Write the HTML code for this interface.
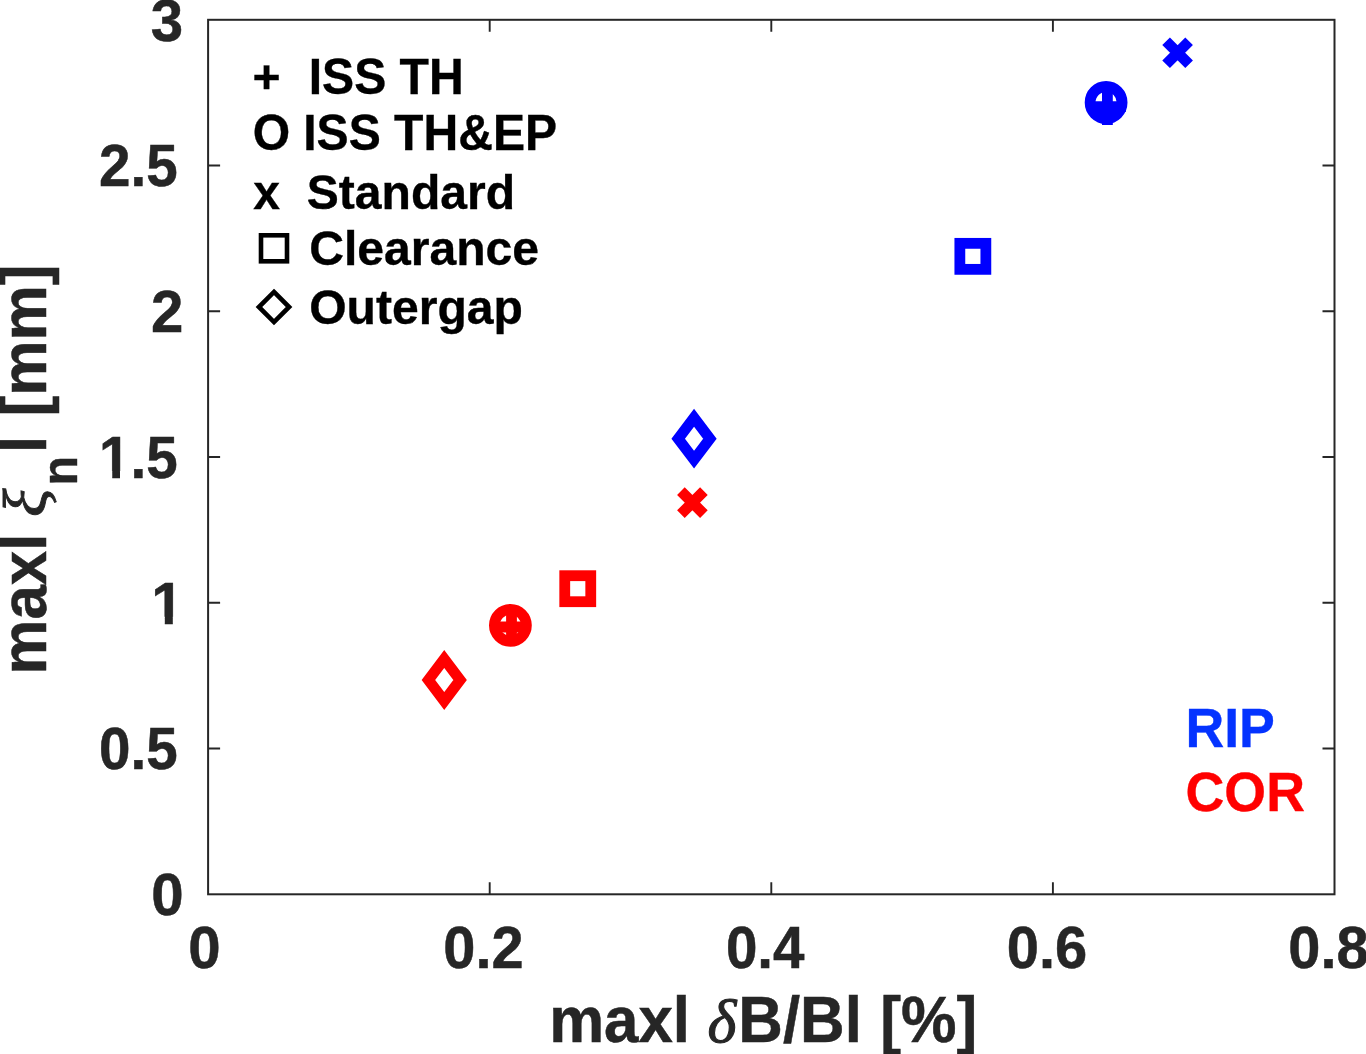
<!DOCTYPE html>
<html lang="en">
<head>
<meta charset="utf-8">
<title>max|xi_n| versus max|dB/B|</title>
<style>
  html, body { margin: 0; padding: 0; background: #ffffff; }
  body { width: 1366px; height: 1054px; overflow: hidden; }
  svg { display: block; }
  .sans { font-family: "Liberation Sans", Arial, Helvetica, sans-serif; font-weight: bold; }
  .tick { font-size: 58.2px; fill: #262626; stroke: #262626; stroke-width: 0.5px; }
  .axl  { font-size: 64px; fill: #262626; stroke: #262626; stroke-width: 0.5px; }
  .sub  { font-size: 50px; fill: #262626; stroke: #262626; stroke-width: 0.4px; }
  .leg  { font-size: 48.1px; fill: #000000; stroke: #000000; stroke-width: 0.35px; }
  .grp  { font-size: 53.7px; stroke-width: 0.35px; }
  .math { font-family: "Liberation Serif", "DejaVu Serif", serif; font-style: italic; font-weight: normal; font-size: 64px; fill: #262626; stroke: #262626; stroke-width: 0.9px; }
  .math.xi { font-size: 62px; }
  .math.dl { font-size: 62px; stroke-width: 1.1px; }
</style>
</head>
<body>
<svg width="1366" height="1054" viewBox="0 0 1366 1054">
  <rect x="0" y="0" width="1366" height="1054" fill="#ffffff"/>

  <g id="axes" stroke="#262626" stroke-width="2" fill="none">
    <rect x="208.1" y="19.8" width="1126.4" height="874.5"/>
    <path stroke-width="1.9" d="M489.7 894.3v-12M489.7 19.8v12M771.3 894.3v-12M771.3 19.8v12M1052.9 894.3v-12M1052.9 19.8v12M208.1 748.55h12M1334.5 748.55h-12M208.1 602.8h12M1334.5 602.8h-12M208.1 457.05h12M1334.5 457.05h-12M208.1 311.3h12M1334.5 311.3h-12M208.1 165.55h12M1334.5 165.55h-12"/>
  </g>
  <defs>
    <clipPath id="c1"><path clip-rule="evenodd" d="M-60 -60H10V10H-60Z M-32.37 -6.74H-18.79V4H-32.37Z M-10.8 -6.74H2V4H-10.8Z"/></clipPath>
    <clipPath id="c15"><path clip-rule="evenodd" d="M-100 -60H10V10H-100Z M-80.91 -6.74H-67.33V4H-80.91Z M-59.34 -6.74H-46.54V4H-59.34Z"/></clipPath>
  </defs>
  <g id="yticks" class="sans tick" text-anchor="end">
    <text transform="translate(183.1 40.7) scale(1.0 1.02)">3</text>
    <text transform="translate(177.7 186.45) scale(0.972 1.02)">2.5</text>
    <text transform="translate(183.4 332.2) scale(1.0 1.02)">2</text>
    <text transform="translate(177.7 477.95) scale(0.972 1.02)" clip-path="url(#c15)">1.5</text>
    <text transform="translate(183.6 623.7) scale(1.0 1.02)" clip-path="url(#c1)">1</text>
    <text transform="translate(177.7 769.45) scale(0.972 1.02)">0.5</text>
    <text transform="translate(183.7 915.2) scale(1.0 1.02)">0</text>
  </g>
  <g id="xticks" class="sans tick" text-anchor="middle">
    <text transform="translate(204.35 968.2) scale(1.0 1.02)">0</text>
    <text transform="translate(483.45 968.2) scale(0.992 1.02)">0.2</text>
    <text transform="translate(765.2 968.2) scale(0.972 1.02)">0.4</text>
    <text transform="translate(1047 968.2) scale(0.995 1.02)">0.6</text>
    <text transform="translate(1328.4 968.2) scale(0.992 1.02)">0.8</text>
  </g>
  <g id="xlabel">
    <text class="sans axl" transform="translate(549.2 1041.8) scale(0.965 1.0)">maxl</text>
    <text class="math dl" transform="translate(707.6 1041.8) scale(1 1)">δ</text>
    <text class="sans axl" transform="translate(738.3 1041.8) scale(0.965 1.0)">B/Bl</text>
    <text class="sans axl" transform="translate(880.3 1041.8) scale(0.975 1.0)">[%]</text>
  </g>
  <g id="ylabel" transform="translate(45.6 0) rotate(-90)">
    <text class="sans axl" transform="translate(-674.4 0) scale(0.965 1.0)">maxl</text>
    <text class="math xi" transform="translate(-516.9 0) scale(1.07 1)">ξ</text>
    <text class="sans sub" transform="translate(-485.4 31.2) scale(0.965 1.0)">n</text>
    <text class="sans axl" transform="translate(-453 0) scale(0.965 1.0)">l</text>
    <text class="sans axl" transform="translate(-416.5 0) scale(0.972 1.0)">[mm]</text>
  </g>
  <g id="legend" class="sans leg">
    <text transform="translate(252.6 92.6) scale(1 0.97)">+</text>
    <text transform="translate(308.7 94.3) scale(1 1.03)">ISS TH</text>
    <text transform="translate(252.7 150.3) scale(1 1.03)">O</text>
    <text transform="translate(303.2 150.3) scale(1 1.03)">ISS TH&amp;EP</text>
    <text transform="translate(253.2 209.2) scale(1 1.0)">x</text>
    <text transform="translate(306.7 209.2) scale(1 1.012)">Standard</text>
    <rect x="261" y="235.3" width="26" height="26" fill="none" stroke-width="4.6"/>
    <text transform="translate(309.2 265.2) scale(1 1.012)">Clearance</text>
    <path d="M274 291.9L289.1 307L274 322.1L258.9 307Z" fill="none" stroke-width="4.6" stroke-linejoin="miter"/>
    <text transform="translate(309.2 323.7) scale(1 1.012)">Outergap</text>
  </g>
  <text class="sans grp" transform="translate(1185.4 747) scale(1 1.03)" fill="#0433ff" stroke="#0433ff">RIP</text>
  <text class="sans grp" transform="translate(1185.6 811.3) scale(1 1.03)" fill="#ff0000" stroke="#ff0000">COR</text>
  <g id="rip" stroke="#0000ff" stroke-width="10.8" fill="none" stroke-linejoin="miter">
    <path d="M1166.1 41.3L1189.1 64.3M1189.1 41.3L1166.1 64.3"/>
    <circle cx="1106.1" cy="102.5" r="16"/>
    <path d="M1107.4 88.3V125.1M1089 106.7H1125.8"/>
    <rect x="959.85" y="243.35" width="26" height="26"/>
    <path d="M694.05 417.65L709.9 438.65L694.05 459.65L678.2 438.65Z"/>
  </g>
  <g id="cor" stroke="#ff0000" stroke-width="10.8" fill="none" stroke-linejoin="miter">
    <path d="M680.9 491.15L703.9 514.15M703.9 491.15L680.9 514.15"/>
    <circle cx="510.4" cy="625.3" r="16"/>
    <path d="M511.5 608.6V645.4M493.1 627H529.9"/>
    <rect x="564.75" y="575.7" width="26" height="26"/>
    <path d="M444.25 659L460.1 680L444.25 701L428.4 680Z"/>
  </g>
</svg>
</body>
</html>
